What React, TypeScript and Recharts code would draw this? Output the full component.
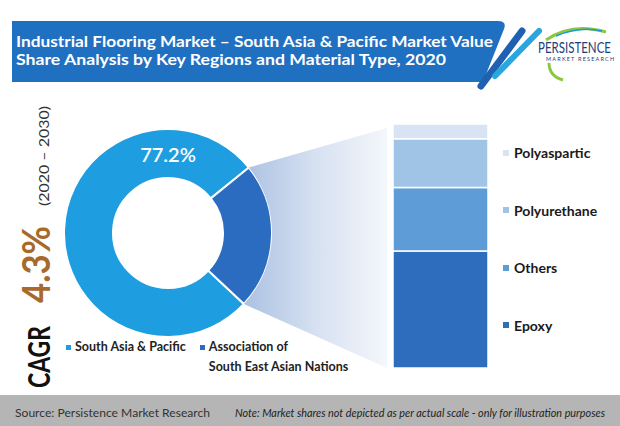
import React from 'react';
import { PieChart, Pie, Cell, BarChart, Bar, XAxis, YAxis, Legend } from 'recharts';

// region split of the donut (value share, 2020)
const regions = ['South Asia & Pacific', 'Association of\nSouth East Asian Nations'];
const regionShares = [77.2, 22.8];
const regionColors = ['#1e9ee0', '#2b6cc1'];

// material split of the ASEAN slice, bottom to top
const materials = ['Epoxy', 'Others', 'Polyurethane', 'Polyaspartic'];
const materialShares = [48, 26, 20, 6];
const materialColors = ['#2e6cbe', '#5e9cd8', '#a0c4e6', '#d8e4f3'];

const cagrValue = '4.3%';
const cagrPeriod = '(2020 – 2030)';

const titleLines = [
  'Industrial Flooring Market – South Asia & Pacific Market Value',
  'Share Analysis by Key Regions and Material Type, 2020',
];

const regionData = regions.map((name, i) => ({ name, value: regionShares[i] }));
const materialRow: Record<string, string | number> = { name: 'ASEAN' };
materials.forEach((m, i) => {
  materialRow[m] = materialShares[i];
});

// layout
const FONT = 'Lato, "Open Sans", sans-serif';
const BAR_LEFT = 393;
const BAR_TOP = 124;
const BAR_BOTTOM = 368;
const BAR_WIDTH = 95;
const RAD = Math.PI / 180;

const polar = (cx: number, cy: number, r: number, a: number) => ({
  x: cx + r * Math.cos(-a * RAD),
  y: cy + r * Math.sin(-a * RAD),
});

const renderPieLabel = (props: any) => {
  const { cx, cy, innerRadius, outerRadius, startAngle, endAngle, index, value } = props;
  if (index === 0) {
    const p = polar(cx, cy, (innerRadius + outerRadius) / 2, 90);
    return (
      <text x={p.x} y={p.y + 3} textAnchor="middle" dominantBaseline="middle" fill="#fff"
        fontSize={20} fontFamily={FONT} fontWeight={600}>
        {`${Number(value).toFixed(1)}%`}
      </text>
    );
  }
  // projection from the ASEAN slice to the material bar
  const a = polar(cx, cy, outerRadius, startAngle);
  const b = polar(cx, cy, outerRadius, endAngle);
  const top = a.y < b.y ? a : b;
  const bot = a.y < b.y ? b : a;
  const fx = BAR_LEFT - 6;
  const d = `M${top.x},${top.y} L${fx},${BAR_TOP + 4} L${fx},${BAR_BOTTOM} L${bot.x},${bot.y} ` +
    `A${outerRadius},${outerRadius} 0 0 0 ${top.x},${top.y} Z`;
  return (
    <g>
      <defs>
        <linearGradient id="funnelGrad" x1="0" y1="0" x2="1" y2="0">
          <stop offset="0" stopColor="#abc1e2" />
          <stop offset="0.5" stopColor="#d6e1f1" />
          <stop offset="1" stopColor="#f4f7fb" />
        </linearGradient>
      </defs>
      <path d={d} fill="url(#funnelGrad)" stroke="none" />
    </g>
  );
};

const RegionLegend = ({ payload }: any) => {
  const items = [...(payload || [])].sort(
    (a: any, b: any) => regions.indexOf(a.value) - regions.indexOf(b.value)
  );
  return (
    <div style={{ display: 'flex', alignItems: 'flex-start', fontFamily: FONT }}>
      {items.map((e: any, i: number) => (
        <div key={e.value} style={{ display: 'flex', alignItems: 'flex-start', marginRight: i === 0 ? 14 : 0 }}>
          <span style={{ width: 5, height: 5, background: e.color, marginTop: 8, marginRight: 4, display: 'inline-block' }} />
          <span style={{ whiteSpace: 'pre-line', fontSize: 12.5, fontWeight: 700, color: '#222', lineHeight: '20px' }}>
            {e.value}
          </span>
        </div>
      ))}
    </div>
  );
};

const MaterialLegend = ({ payload }: any) => {
  const items = [...(payload || [])].sort(
    (a: any, b: any) => materials.indexOf(b.value) - materials.indexOf(a.value)
  );
  return (
    <div style={{ fontFamily: FONT }}>
      {items.map((e: any) => (
        <div key={e.value} style={{ height: 57.5, display: 'flex', alignItems: 'center' }}>
          <span style={{ width: 6, height: 6, background: e.color, marginRight: 5, display: 'inline-block' }} />
          <span style={{ fontSize: 14, fontWeight: 700, color: '#1a1a1a' }}>{e.value}</span>
        </div>
      ))}
    </div>
  );
};

const Decorations = () => (
  <svg width={620} height={426} style={{ position: 'absolute', left: 0, top: 0 }}>
    {/* title banner */}
    <path d="M12,21 L498,21 Q507,21 504,29 L483,82 L12,82 Z" fill="#1f70c1" />
    <line x1={481} y1={86} x2={522} y2={31} stroke="#1f60b0" strokeWidth={7} strokeLinecap="round" />
    <line x1={495} y1={76} x2={539} y2={31} stroke="#2aa6de" strokeWidth={6} strokeLinecap="round" />
    {titleLines.map((t, i) => (
      <text key={i} x={16} y={47 + i * 18} fill="#fff" fontSize={15} fontWeight={700} fontFamily={FONT}
        textLength={i === 0 ? 477 : 430} lengthAdjust="spacingAndGlyphs">
        {t}
      </text>
    ))}
    {/* logo */}
    <path d="M546,40 Q572,22 606,32" fill="none" stroke="#8dc63f" strokeWidth={3} />
    <path d="M556,36 Q580,26 602,31" fill="none" stroke="#1a9ad6" strokeWidth={1.5} />
    <text transform="translate(538,53) scale(1,1.4)" fontSize={11.5} fill="#1d3f7a" fontFamily={FONT}>
      PERSISTENCE
    </text>
    <text x={546} y={61} fontSize={5.5} fill="#1d3f7a" fontFamily={FONT} letterSpacing={1.2}>
      MARKET RESEARCH
    </text>
    <path d="M549,63 Q549,76 563,80" fill="none" stroke="#8dc63f" strokeWidth={3} />
    {/* CAGR */}
    <g transform="translate(50,388) rotate(-90)">
      <text x={0} y={0} fontSize={30} fontWeight={700} fill="#111" fontFamily={FONT} textLength={62} lengthAdjust="spacingAndGlyphs">CAGR</text>
      <text x={85} y={0} fontSize={38} fontWeight={700} fill="#a86a2c" fontFamily={FONT} textLength={77} lengthAdjust="spacingAndGlyphs">{cagrValue}</text>
      <text x={182} y={-1} fontSize={13} fill="#333" fontFamily={FONT} textLength={100} lengthAdjust="spacingAndGlyphs">{cagrPeriod}</text>
    </g>
    {/* footer */}
    <rect x={0} y={395} width={620} height={31} fill="#b5b5b5" />
    <text x={15} y={417} fontSize={12} fill="#333" fontFamily={FONT} textLength={195} lengthAdjust="spacingAndGlyphs">
      Source: Persistence Market Research
    </text>
    <text x={235} y={417} fontSize={10.5} fill="#222" fontStyle="italic" fontFamily={FONT} textLength={370} lengthAdjust="spacingAndGlyphs">
      Note: Market shares not depicted as per actual scale - only for illustration purposes
    </text>
  </svg>
);

export default function App() {
  return (
    <div style={{ position: 'absolute', left: 0, top: 0, width: 620, height: 426, background: '#fff', overflow: 'hidden' }}>
      <Decorations />
      <div style={{ position: 'absolute', left: 0, top: 0 }}>
        <PieChart width={620} height={426} margin={{ top: 0, right: 0, bottom: 0, left: 0 }}>
          <Pie
            data={regionData}
            dataKey="value"
            nameKey="name"
            cx={168}
            cy={233}
            innerRadius={55}
            outerRadius={104}
            startAngle={39}
            endAngle={399}
            stroke="#fff"
            strokeWidth={2}
            label={renderPieLabel}
            labelLine={false}
            isAnimationActive={false}
          >
            {regionData.map((d, i) => (
              <Cell key={d.name} fill={regionColors[i]} />
            ))}
          </Pie>
          <Legend
            layout="vertical"
            align="center"
            verticalAlign="middle"
            content={RegionLegend}
            wrapperStyle={{ position: 'absolute', left: 66, top: 337, width: 320 }}
          />
        </PieChart>
      </div>
      <div style={{ position: 'absolute', left: BAR_LEFT - 10, top: BAR_TOP - 10 }}>
        <BarChart
          width={620 - (BAR_LEFT - 10)}
          height={BAR_BOTTOM - BAR_TOP + 20}
          data={[materialRow]}
          margin={{ top: 10, bottom: 10, left: 10, right: 620 - BAR_LEFT - BAR_WIDTH }}
          barCategoryGap={0}
        >
          <XAxis dataKey="name" hide />
          <YAxis hide domain={[0, 100]} />
          {materials.map((m, i) => (
            <Bar key={m} dataKey={m} stackId="mat" fill={materialColors[i]} stroke="#fff" strokeWidth={1.5}
              isAnimationActive={false} />
          ))}
          <Legend
            layout="vertical"
            align="center"
            verticalAlign="middle"
            content={MaterialLegend}
            wrapperStyle={{ position: 'absolute', left: 120, top: 10, width: 115 }}
          />
        </BarChart>
      </div>
    </div>
  );
}
